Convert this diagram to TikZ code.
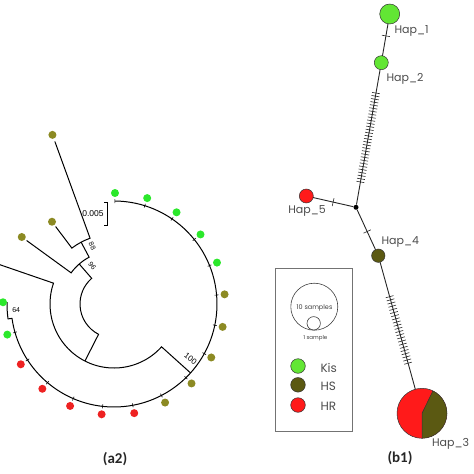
\documentclass[tikz,border=0pt]{standalone}
\usepackage{fontspec}
\setmainfont{Liberation Sans}
\newfontfamily\hapfont{Poppins}
\newfontfamily\capfont{Carlito}
\usetikzlibrary{calc}
\definecolor{treegreen}{HTML}{2BE82B}
\definecolor{treeolive}{HTML}{8C8A23}
\definecolor{treered}{HTML}{EE2222}
\definecolor{netgreen}{HTML}{62E634}
\definecolor{netolive}{HTML}{5B5912}
\definecolor{netred}{HTML}{FF1A1A}
\begin{document}
\begin{tikzpicture}[x=1pt,y=-1pt,
  tip/.style={circle,inner sep=0pt,minimum size=8pt},
  hap/.style={circle,draw=black!80,line width=0.5pt,inner sep=0pt,outer sep=0pt},
  haplabel/.style={font=\hapfont\fontsize{11}{12}\selectfont,text=black!70},
  edge/.style={line width=0.9pt,black!85},
  mut/.style={line width=0.6pt,black!85},
  boot/.style={font=\fontsize{7}{8}\selectfont,inner sep=0pt}]
\useasboundingbox (0,0) rectangle (474,474);

% (a2) circular tree
\begin{scope}[shift={(114,304)},line width=1pt]
\draw (89.5:103pt) arc[start angle=89.5,end angle=-172,radius=103pt]
  -- (-172:107pt) arc[start angle=-172,end angle=-181,radius=107pt];
\foreach \k/\c in {0/treegreen,1/treegreen,2/treegreen,3/treegreen,4/treegreen,
  5/treeolive,6/treeolive,7/treeolive,8/treeolive,9/treeolive,
  10/treered,11/treered,12/treered,13/treered,14/treered,
  15/treegreen,16/treegreen}{
  \pgfmathsetmacro\a{89.5-16.9*\k}
  \ifnum\k<16 \draw[line width=0.6pt] (\a:101pt) -- (\a:105pt);\fi
  \node[tip,fill=\c] (t\k) at (\a:111pt) {};
}
\draw (-42:103pt) -- (-42:64pt) arc[start angle=-42,end angle=-199,radius=64pt] -- (161:220pt);
\draw (243:64pt) -- (243:34pt) arc[start angle=243,end angle=131,radius=34pt] -- (131:53pt);
\draw (144:108pt) -- (144:53pt) arc[start angle=144,end angle=118,radius=53pt] -- (118:70pt);
\draw (110:173pt) -- (110:70pt) arc[start angle=110,end angle=127,radius=70pt] -- (127:97pt);
\node[tip,fill=treeolive] (o1) at (110:180pt) {};
\node[tip,fill=treeolive] (o2) at (127:103pt) {};
\node[tip,fill=treeolive] (o3) at (144:114pt) {};
\node[boot,rotate=-62] (b88) at (110.5:62pt) {88};
\node[boot,rotate=-50] (b96) at (119.5:44pt) {96};
\node[boot,font=\fontsize{8}{9}\selectfont,rotate=-38] (b100) at (-35.5:94pt) {100};
\node[boot] (b64) at (183.5:98pt) {64};
\end{scope}
\draw[line width=1pt] (104.3,202.7) -- (107.7,202.7) -- (107.7,225) -- (104.3,225);
\node[boot,font=\fontsize{8.5}{9}\selectfont] (scale) at (93,214) {0.005};
\node[font=\capfont\bfseries\fontsize{15}{16}\selectfont,text=black!85] (a2) at (115,459) {(a2)};

% (b1) haplotype network
\node[hap,fill=netgreen,minimum size=20pt] (Hap1) at (389.7,14) {};
\node[hap,fill=netgreen,minimum size=14pt] (Hap2) at (381.3,62.7) {};
\node[circle,fill=black,inner sep=0pt,minimum size=5pt] (J) at (356,207.3) {};
\node[hap,fill=netred,minimum size=14pt] (Hap5) at (306.3,196) {};
\node[hap,fill=netolive,minimum size=13.4pt] (Hap4) at (378.3,255.7) {};
\node[circle,inner sep=0pt,outer sep=0pt,minimum size=50pt] (Hap3) at (422,413.3) {};
\fill[netred] (Hap3.center) circle[radius=25pt];
\fill[netolive] (Hap3.center) -- (Hap3.-90) arc[start angle=-90,end angle=64,radius=25pt] -- cycle;
\draw[black!80,line width=0.5pt] (Hap3.64) -- (Hap3.center) -- (Hap3.-90);
\draw[black!80,line width=0.5pt] (Hap3.center) circle[radius=25pt];

\draw[edge] (Hap1) -- (Hap2);
\draw[edge] (Hap2) -- (J);
\draw[edge] (J) -- (Hap5);
\draw[edge] (J) -- (Hap4);
\draw[edge] (Hap4) -- (Hap3);

\foreach \i [evaluate=\i as \t using 0.21+0.0212*\i] in {0,...,29}{
  \coordinate (m) at ($(Hap2)!\t!(J)$);
  \draw[mut] ($(m)!4pt!90:(J)$) -- ($(m)!4pt!-90:(J)$);
}
\foreach \i [evaluate=\i as \t using 0.26+0.0201*\i] in {0,...,21}{
  \coordinate (m) at ($(Hap4)!\t!(Hap3)$);
  \draw[mut] ($(m)!4pt!90:(Hap3)$) -- ($(m)!4pt!-90:(Hap3)$);
}
\foreach \p/\q/\t in {Hap1/Hap2/0.45,J/Hap5/0.46,J/Hap4/0.5}{
  \coordinate (m) at ($(\p)!\t!(\q)$);
  \draw[mut] ($(m)!4pt!90:(\q)$) -- ($(m)!4pt!-90:(\q)$);
}

\node[haplabel,anchor=west] (l1) at (391,30.7) {Hap\_1};
\node[haplabel,anchor=west] (l2) at (383,79) {Hap\_2};
\node[haplabel] (l5) at (307,210.7) {Hap\_5};
\node[haplabel,anchor=west] (l4) at (378,241.7) {Hap\_4};
\node[haplabel,anchor=west] (l3) at (428.5,444.3) {Hap\_3};

% legend
\draw[black!55,line width=1.5pt] (275.3,268.3) rectangle (352.7,431.7);
\node[circle,draw=black!75,line width=0.6pt,inner sep=0pt,minimum size=47pt] (s10) at (314.3,306.7) {};
\node[circle,draw=black!75,line width=0.6pt,inner sep=0pt,minimum size=13.4pt] (s1) at (313.7,323.3) {};
\node[font=\hapfont\fontsize{6.5}{7}\selectfont,text=black!75] (s10lab) at (314.5,308) {10 samples};
\node[font=\hapfont\fontsize{5.5}{6}\selectfont,text=black!75] (s1lab) at (315.3,338.3) {1 sample};
\node[hap,fill=netgreen,minimum size=14.6pt] (kKis) at (298,366) {};
\node[hap,fill=netolive,minimum size=14.6pt] (kHS) at (298,384.8) {};
\node[hap,fill=netred,minimum size=14.6pt] (kHR) at (298,405) {};
\node[haplabel,font=\hapfont\fontsize{12}{13}\selectfont,anchor=west] (tKis) at (317,367.5) {Kis};
\node[haplabel,font=\hapfont\fontsize{12}{13}\selectfont,anchor=west] (tHS) at (317,386) {HS};
\node[haplabel,font=\hapfont\fontsize{12}{13}\selectfont,anchor=west] (tHR) at (317,406.5) {HR};
\node[font=\capfont\bfseries\fontsize{15}{16}\selectfont,text=black!85] (b1) at (400,458) {(b1)};
\end{tikzpicture}
\end{document}
